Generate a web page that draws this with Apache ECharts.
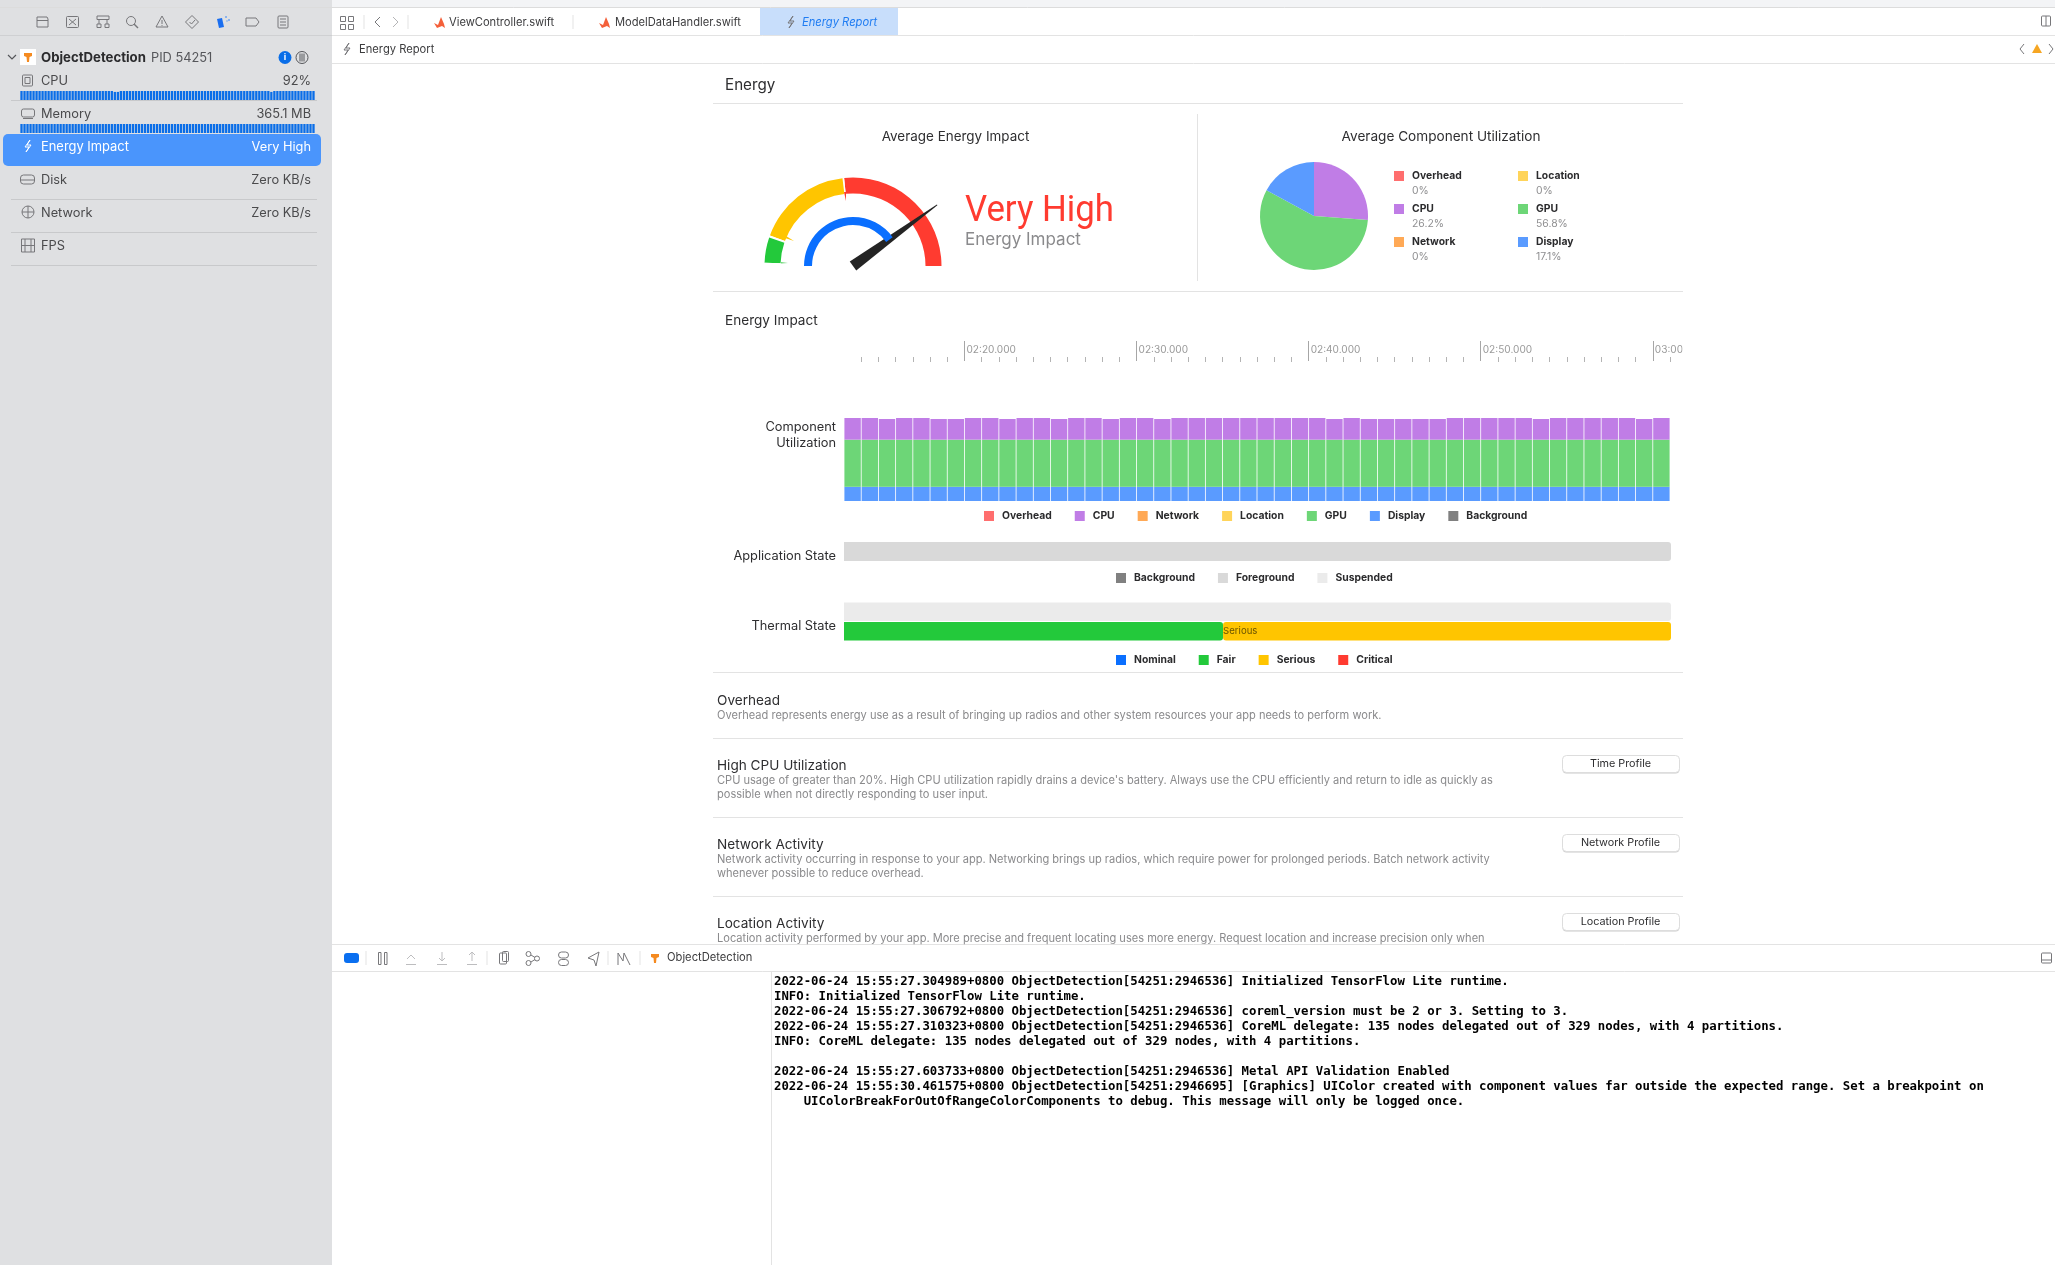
<!DOCTYPE html>
<html>
<head>
<meta charset="utf-8">
<title>Energy Report</title>
<script src="https://cdn.jsdelivr.net/npm/echarts@6/dist/echarts.min.js"></script>
<style>
  html, body { margin: 0; padding: 0; background: #fff; }
  #main { width: 2055px; height: 1265px; }
</style>
</head>
<body>
<div id="main"></div>
<script>
// ---------- data ----------
var gaugeStops = [[0.012, '#ffffff'], [0.104, '#23c93b'], [0.112, '#ffffff'], [0.462, '#ffc500'], [0.468, '#ffffff'], [1, '#ff3b30']];
var energyLevel = 80;

var pieNames = ['CPU', 'GPU', 'Display', 'Overhead', 'Location', 'Network'];
var pieValues = [26.2, 56.8, 17.1, 0, 0, 0];

var seconds = ['02:13','02:14','02:15','02:16','02:17','02:18','02:19','02:20','02:21','02:22','02:23','02:24','02:25','02:26','02:27','02:28',
  '02:29','02:30','02:31','02:32','02:33','02:34','02:35','02:36','02:37','02:38','02:39','02:40','02:41','02:42','02:43','02:44',
  '02:45','02:46','02:47','02:48','02:49','02:50','02:51','02:52','02:53','02:54','02:55','02:56','02:57','02:58','02:59','03:00'];
var cpuUtil = [26.1,26.1,24.9,26.1,26.1,24.9,24.9,26.1,26.1,24.9,26.1,26.1,24.9,26.1,26.1,24.9,
  26.1,26.1,24.9,26.1,26.1,26.1,26.1,26.1,26.1,26.1,26.1,26.1,24.9,26.1,24.9,24.9,
  24.9,24.9,24.9,26.1,26.1,26.1,26.1,26.1,24.9,26.1,26.1,26.1,26.1,26.1,24.9,26.1];
var gpuUtil = [56.8,56.8,56.8,56.8,56.8,56.8,56.8,56.8,56.8,56.8,56.8,56.8,56.8,56.8,56.8,56.8,
  56.8,56.8,56.8,56.8,56.8,56.8,56.8,56.8,56.8,56.8,56.8,56.8,56.8,56.8,56.8,56.8,
  56.8,56.8,56.8,56.8,56.8,56.8,56.8,56.8,56.8,56.8,56.8,56.8,56.8,56.8,56.8,56.8];
var displayUtil = [17.1,17.1,17.1,17.1,17.1,17.1,17.1,17.1,17.1,17.1,17.1,17.1,17.1,17.1,17.1,17.1,
  17.1,17.1,17.1,17.1,17.1,17.1,17.1,17.1,17.1,17.1,17.1,17.1,17.1,17.1,17.1,17.1,
  17.1,17.1,17.1,17.1,17.1,17.1,17.1,17.1,17.1,17.1,17.1,17.1,17.1,17.1,17.1,17.1];

var minorTicks = [134,135,136,137,138,139,141,142,143,144,145,146,147,148,149,151,152,153,154,155,156,157,158,159,
  161,162,163,164,165,166,167,168,169,171,172,173,174,175,176,177,178,179,181];
var majorTicks = [140,150,160,170,180];

var appStateRow = ['Application'];
var foregroundSecs = [48];
var thermalRows = ['Idle', 'Thermal'];
var suspendedSecs = [48, null];
var fairSecs = [null, 22];
var seriousSecs = [null, 26];

var cpuSpark = [100,100,100,100,100,100,100,100,100,100,100,100,100,100,100,100,100,100,100,100,100,100,100,100,100,100,100,100,100,100,100,90,90,100,100,100,100,100,100,100,100,100,100,100,100,100,100,100,100,100,
  100,100,100,100,100,100,100,100,100,100,100,100,100,100,100,100,100,100,100,100,100,100,100,100,100,100,100,100,100,100,100,100,100,90,100,100,100,100,100,100,100,100,100,100,100,100,100,100];
var memSpark = [100,100,100,100,100,100,100,100,100,100,100,100,100,100,100,100,100,100,100,100,100,100,100,100,100,100,100,100,100,100,100,100,100,100,100,100,100,100,100,100,100,100,100,100,100,100,100,100,100,100,
  100,100,100,100,100,100,100,100,100,100,100,100,100,100,100,100,100,100,100,100,100,100,100,100,100,100,100,100,100,100,100,100,100,100,100,100,100,100,100,100,100,100,100,100,100,100,100,100];
var sparkSlots = ['1','2','3','4','5','6','7','8','9','10','11','12','13','14','15','16','17','18','19','20','21','22','23','24','25','26','27','28','29','30','31','32','33','34','35','36','37','38','39','40','41','42','43','44','45','46','47','48','49','50',
  '51','52','53','54','55','56','57','58','59','60','61','62','63','64','65','66','67','68','69','70','71','72','73','74','75','76','77','78','79','80','81','82','83','84','85','86','87','88','89','90','91','92','93','94','95','96','97','98'];

var consoleLines = [
  [981, '2022-06-24 15:55:27.304989+0800 ObjectDetection[54251:2946536] Initialized TensorFlow Lite runtime.'],
  [996, 'INFO: Initialized TensorFlow Lite runtime.'],
  [1011, '2022-06-24 15:55:27.306792+0800 ObjectDetection[54251:2946536] coreml_version must be 2 or 3. Setting to 3.'],
  [1026, '2022-06-24 15:55:27.310323+0800 ObjectDetection[54251:2946536] CoreML delegate: 135 nodes delegated out of 329 nodes, with 4 partitions.'],
  [1041, 'INFO: CoreML delegate: 135 nodes delegated out of 329 nodes, with 4 partitions.'],
  [1071, '2022-06-24 15:55:27.603733+0800 ObjectDetection[54251:2946536] Metal API Validation Enabled'],
  [1086, '2022-06-24 15:55:30.461575+0800 ObjectDetection[54251:2946695] [Graphics] UIColor created with component values far outside the expected range. Set a breakpoint on'],
  [1101, '    UIColorBreakForOutOfRangeColorComponents to debug. This message will only be logged once.']
];

var colors = {
  Overhead: '#ff6e6e', CPU: '#c07de6', Network: '#ffa956', Location: '#ffd45a', GPU: '#6dd677', Display: '#5a9bff',
  Background: '#808080', Foreground: '#d9d9d9', Suspended: '#ebebeb',
  Nominal: '#0a6fff', Fair: '#23c93b', Serious: '#ffc500', Critical: '#ff3b30'
};

// ---------- small helpers for the window chrome ----------
var SANS = 'Inter, "Noto Sans", sans-serif';
var LINE = '#e3e3e3';
var ICON = '#77777a';

function txt(x, y, text, size, fill, extra) {
  extra = extra || {};
  return {
    type: 'text', z: extra.z || 10, silent: true,
    style: {
      x: x, y: y + 1, text: text, fill: fill,
      font: (extra.style || 'normal') + ' ' + (extra.weight || 400) + ' ' + size + 'px ' + (extra.family || SANS),
      align: extra.align || 'left', verticalAlign: 'middle',
      textAlign: extra.align || 'left', textVerticalAlign: 'middle'
    }
  };
}
function box(x, y, w, h, fill, r, stroke, z) {
  return { type: 'rect', silent: true, z: z || 1, shape: { x: x, y: y, width: w, height: h, r: r || 0 },
    style: { fill: fill, stroke: stroke || null, lineWidth: stroke ? 1 : 0 } };
}
function seg(x1, y1, x2, y2, color, w) {
  return { type: 'line', silent: true, z: 2, shape: { x1: x1, y1: y1, x2: x2, y2: y2 }, style: { stroke: color || LINE, lineWidth: w || 1 } };
}
function pl(points, color, w) {
  return { type: 'polyline', silent: true, z: 3, shape: { points: points }, style: { stroke: color || ICON, lineWidth: w || 1, fill: null } };
}
function pg(points, fill) {
  return { type: 'polygon', silent: true, z: 3, shape: { points: points }, style: { fill: fill } };
}
function dot(x, y, r, fill, stroke) {
  return { type: 'circle', silent: true, z: 3, shape: { cx: x, cy: y, r: r }, style: { fill: fill || null, stroke: stroke || null, lineWidth: stroke ? 1 : 0 } };
}
function swift(x, y) {
  return pg([[x - 5, y + 1], [x - 1, y + 3], [x + 2, y - 5], [x + 5, y + 2], [x + 6, y + 6], [x + 3, y + 4], [x - 2, y + 6]], '#f4603a');
}
function tfIcon(x, y) {
  return pg([[x - 4, y - 4], [x + 4, y - 4], [x + 4, y - 1], [x + 1.5, y], [x + 1, y + 5], [x - 1, y + 5], [x - 1.5, y], [x - 4, y - 1]], '#f58a1f');
}
function bolt(x, y, color) {
  return pl([[x + 2, y - 6], [x - 3, y + 1], [x + 1, y + 1], [x - 2, y + 6], [x + 3, y - 1], [x - 1, y - 1], [x + 2, y - 6]], color, 1);
}

var g = [];
// backdrops
g.push(box(0, 0, 2055, 8, '#f3f4f6'));
g.push(box(0, 0, 332, 1265, '#dfe0e2'));
g.push(seg(0, 7.5, 2055, 7.5, '#dcdcdc'), seg(332, 35.5, 2055, 35.5, LINE), seg(0, 35.5, 332, 35.5, '#cfd0d2'), seg(332, 63.5, 2055, 63.5, LINE));

// navigator icons
g.push(pl([[37, 17], [47, 17], [48, 19], [48, 27], [37, 27], [37, 17]]), seg(37, 20.5, 48, 20.5, ICON));
g.push(box(66.5, 16.5, 12, 11, null, 1, ICON), seg(69, 19, 76, 25, ICON), seg(76, 19, 69, 25, ICON));
g.push(box(97, 16, 12, 3.5, null, 0, ICON), box(97, 24, 4, 3.5, null, 0, ICON), box(105, 24, 4, 3.5, null, 0, ICON), pl([[99, 19], [99, 24]]), pl([[107, 19], [107, 24]]));
g.push(dot(131, 21, 4.5, null, ICON), seg(134, 24, 138, 28, ICON, 1.4));
g.push(pl([[162, 16], [168, 27], [156, 27], [162, 16]]), seg(162, 20, 162, 24, ICON), dot(162, 25.5, 0.6, ICON));
g.push(pl([[192, 15.5], [198.5, 22], [192, 28.5], [185.5, 22], [192, 15.5]]), pl([[189.5, 22], [191.5, 24], [195, 20]]));
g.push(pg([[217, 19], [222, 18], [224, 27], [219, 28]], '#1a6ef0'), dot(226, 17, 1, '#6ea5f2'), dot(229, 20, 1, '#6ea5f2'), dot(227, 21, 0.8, '#6ea5f2'));
g.push(pl([[246, 18], [256, 18], [259, 22], [256, 26], [246, 26], [246, 18]]));
g.push(box(278, 16, 10, 12, null, 1, ICON), seg(280, 19, 286, 19, ICON), seg(280, 22, 286, 22, ICON), seg(280, 25, 286, 25, ICON));

// process rows
g.push(pl([[8, 55], [12, 59], [16, 55]], '#55565a', 1.2));
g.push(box(20, 49, 16, 16, '#ffffff'), tfIcon(28, 57));
g.push(txt(41, 57, 'ObjectDetection', 13.2, '#2b2b2d', { weight: 700 }), txt(151, 57, 'PID 54251', 12.8, '#55565a'));
g.push(dot(285, 57.5, 6.5, '#0a6ee8'), txt(285, 56.5, 'i', 9, '#ffffff', { align: 'center', weight: 700 }));
g.push(dot(302, 57.5, 6, null, '#55565a'), seg(300, 53.5, 300, 61.5, '#55565a'), seg(302, 53.5, 302, 61.5, '#55565a'), seg(304, 53.5, 304, 61.5, '#55565a'));

var rows = [[80, 'CPU', '92%'], [113, 'Memory', '365.1 MB'], [179, 'Disk', 'Zero KB/s'], [212, 'Network', 'Zero KB/s'], [245, 'FPS', '']];
rows.forEach(function (r) {
  g.push(txt(41, r[0], r[1], 12.8, '#4a4a4c'), txt(311, r[0], r[2], 12.8, '#4a4a4c', { align: 'right' }));
});
g.push(seg(11, 100.5, 317, 100.5, '#c8c9cb'), seg(11, 199.5, 317, 199.5, '#c8c9cb'), seg(11, 232.5, 317, 232.5, '#c8c9cb'), seg(11, 265.5, 317, 265.5, '#c8c9cb'));
g.push(box(22.5, 75, 10, 11, null, 1, ICON), box(25, 77.5, 5, 6, null, 0, ICON));
g.push(box(21.5, 109, 13, 8, null, 2, ICON), seg(23, 118.5, 33, 118.5, ICON));
g.push(box(3, 134, 318, 32, '#4a95fc', 5));
g.push(bolt(28, 146, '#ffffff'));
g.push(txt(41, 146, 'Energy Impact', 12.9, '#ffffff'), txt(311, 146, 'Very High', 12.8, '#ffffff', { align: 'right' }));
g.push(box(20.5, 175, 14, 9, null, 3, ICON), seg(21, 180, 34, 180, ICON));
g.push(dot(28, 212, 6, null, ICON), seg(22, 212, 34, 212, ICON), seg(28, 206, 28, 218, ICON));
g.push(box(21.5, 239, 13, 13, null, 0, ICON), seg(25, 239, 25, 252, ICON), seg(31, 239, 31, 252, ICON), seg(21.5, 245.5, 34.5, 245.5, ICON));

// editor tabs
g.push(box(760, 8, 138, 27, '#c8defb'));
g.push(box(340.5, 16.5, 5, 5, null, 0, ICON), box(348.5, 16.5, 5, 5, null, 0, ICON), box(340.5, 24.5, 5, 5, null, 0, ICON), box(348.5, 24.5, 5, 5, null, 0, ICON));
g.push(seg(364, 15, 364, 29, LINE), seg(408, 15, 408, 29, LINE), seg(573, 15, 573, 29, LINE));
g.push(pl([[380, 17], [375, 22], [380, 27]]), pl([[393, 17], [398, 22], [393, 27]], '#b5b5b7'));
g.push(swift(439, 22), txt(449, 21.5, 'ViewController.swift', 11.15, '#3c3c3e'));
g.push(swift(604, 22), txt(615, 21.5, 'ModelDataHandler.swift', 11.15, '#3c3c3e'));
g.push(bolt(791, 22, ICON), txt(802, 21.5, 'Energy Report', 11.2, '#1f7cf2', { style: 'italic' }));
g.push(bolt(347, 49, ICON), txt(359, 48.5, 'Energy Report', 11.2, '#3c3c3e'));
g.push(box(2041.5, 16, 9, 10, null, 1, ICON), seg(2046, 16, 2046, 26, ICON));
g.push(pl([[2024, 44], [2020, 49], [2024, 54]]), pl([[2049, 44], [2053, 49], [2049, 54]]));
g.push(pg([[2037, 44], [2042, 53], [2032, 53]], '#f6a623'));

// report headings and rules
g.push(txt(725, 84, 'Energy', 15.2, '#2e2e30'));
g.push(seg(713, 103.5, 1683, 103.5), seg(713, 291.5, 1683, 291.5), seg(1197.5, 114, 1197.5, 281));
g.push(txt(955.5, 135.5, 'Average Energy Impact', 13.45, '#2e2e30', { align: 'center' }));
g.push(txt(1441, 135.5, 'Average Component Utilization', 13.6, '#2e2e30', { align: 'center' }));
// the original face is narrower than Roboto at this size, so squeeze it a little
var veryHigh = txt(0, -1, 'Very High', 37, '#ff3b30', { family: 'Roboto, Inter, sans-serif' });
veryHigh.x = 965; veryHigh.y = 211.5; veryHigh.scaleX = 0.94;
g.push(veryHigh, txt(965, 239, 'Energy Impact', 17, '#8a8a8c'));
g.push(pg([[786, 236], [794, 241], [785, 238]], '#ffc500'), pg([[844, 192], [846, 192], [846, 201]], '#ff3b30'), pg([[781, 262], [788, 263], [781, 263.6]], '#6dd677'));

// pie legend percentages
var pctRows = [['Overhead', 1412, 189.5], ['CPU', 1412, 222.5], ['Network', 1412, 255.5], ['Location', 1536, 189.5], ['GPU', 1536, 222.5], ['Display', 1536, 255.5]];
pctRows.forEach(function (p) {
  g.push(txt(p[1], p[2], pieValues[pieNames.indexOf(p[0])] + '%', 10.4, '#8f8f91'));
});

g.push(txt(725, 319.5, 'Energy Impact', 13.6, '#2e2e30'));
g.push(txt(836, 426.5, 'Component', 12.8, '#2e2e30', { align: 'right' }), txt(836, 442.5, 'Utilization', 12.8, '#2e2e30', { align: 'right' }));
g.push(txt(836, 555, 'Application State', 12.8, '#2e2e30', { align: 'right' }));
g.push(txt(836, 625, 'Thermal State', 12.8, '#2e2e30', { align: 'right' }));
g.push(box(1682.5, 340, 40, 18, '#ffffff', 0, null, 100));

// recommendations
var DESC = 11.07;
g.push(seg(713, 672.5, 1683, 672.5), seg(713, 738.5, 1683, 738.5), seg(713, 817.5, 1683, 817.5), seg(713, 896.5, 1683, 896.5));
g.push(txt(717, 699.5, 'Overhead', 13.6, '#2e2e30'));
g.push(txt(717, 715, 'Overhead represents energy use as a result of bringing up radios and other system resources your app needs to perform work.', DESC, '#8a8a8c'));
g.push(txt(717, 764.5, 'High CPU Utilization', 13.6, '#2e2e30'));
g.push(txt(717, 779.5, 'CPU usage of greater than 20%. High CPU utilization rapidly drains a device\'s battery. Always use the CPU efficiently and return to idle as quickly as', DESC, '#8a8a8c'));
g.push(txt(717, 793.5, 'possible when not directly responding to user input.', DESC, '#8a8a8c'));
g.push(txt(717, 843.5, 'Network Activity', 13.6, '#2e2e30'));
g.push(txt(717, 858.5, 'Network activity occurring in response to your app. Networking brings up radios, which require power for prolonged periods. Batch network activity', DESC, '#8a8a8c'));
g.push(txt(717, 872.5, 'whenever possible to reduce overhead.', DESC, '#8a8a8c'));
g.push(txt(717, 922.5, 'Location Activity', 13.6, '#2e2e30'));
g.push(txt(717, 938, 'Location activity performed by your app. More precise and frequent locating uses more energy. Request location and increase precision only when', DESC, '#8a8a8c'));
[[755.5, 'Time Profile'], [834.5, 'Network Profile'], [913.5, 'Location Profile']].forEach(function (b) {
  g.push(box(1562.5, b[0] + 1, 117, 17, '#c9c9c9', 4), box(1562.5, b[0], 117, 17, '#ffffff', 4, '#dddddd'));
  g.push(txt(1620.5, b[0] + 7.5, b[1], 10.8, '#2e2e30', { align: 'center' }));
});

// debug bar and console
g.push(seg(332, 944.5, 2055, 944.5), seg(332, 971.5, 2055, 971.5), seg(771.5, 972, 771.5, 1265));
g.push(box(344, 953, 15, 10, '#0a6ff0', 3));
g.push(seg(366, 951, 366, 965, LINE), seg(487, 951, 487, 965, LINE), seg(608, 951, 608, 965, LINE), seg(640, 951, 640, 965, LINE));
g.push(box(378.5, 952.5, 2.5, 12, null, 0, ICON), box(384.5, 952.5, 2.5, 12, null, 0, ICON));
g.push(pl([[407, 959], [411, 955], [415, 959]], '#bdbdbf'), seg(406, 964.5, 416, 964.5, '#bdbdbf'));
g.push(seg(442, 952, 442, 961, '#bdbdbf'), pl([[439, 958], [442, 961], [445, 958]], '#bdbdbf'), seg(437, 964.5, 447, 964.5, '#bdbdbf'));
g.push(seg(472, 952, 472, 961, '#bdbdbf'), pl([[469, 955], [472, 952], [475, 955]], '#bdbdbf'), seg(467, 964.5, 477, 964.5, '#bdbdbf'));
g.push(box(499.5, 953, 7, 11, null, 1, ICON), box(502.5, 951.5, 6, 10, null, 1, ICON));
g.push(dot(528.5, 954, 2.5, null, ICON), dot(528.5, 963, 2.5, null, ICON), dot(537, 958.5, 2.5, null, ICON), seg(531, 955, 535, 957.5, ICON), seg(531, 962, 535, 959.5, ICON));
g.push(box(558.5, 952, 10, 6, null, 3, ICON), box(558.5, 959.5, 10, 6, null, 3, ICON));
g.push(pl([[599, 952], [588, 958], [594, 960], [596, 966], [599, 952]]));
g.push(pl([[618, 965], [618, 953], [623, 961], [624, 953], [630, 965]]));
g.push(tfIcon(655, 958));
g.push(txt(667, 957, 'ObjectDetection', 11.2, '#3c3c3e'));
g.push(box(2041.5, 953, 10, 10, null, 1, ICON), seg(2042, 960, 2051, 960, ICON));
consoleLines.forEach(function (l) {
  g.push(txt(774, l[0], l[1], 12.33, '#000000', { weight: 700, family: '"DejaVu Sans Mono", monospace' }));
});

// ---------- legends ----------
function legendRow(left, top, names, gap, orient) {
  return {
    left: left, top: top, orient: orient || 'horizontal', icon: 'rect', data: names,
    itemWidth: 10, itemHeight: 10, itemGap: gap, selectedMode: false, padding: 0,
    textStyle: { fontFamily: SANS, fontWeight: 700, fontSize: 10.35, color: '#2b2b2d', padding: [0, 0, 0, 3] }
  };
}

function stackedBar(name, values) {
  return {
    type: 'bar', name: name, xAxisIndex: 2, yAxisIndex: 1, stack: 'util', data: values,
    barWidth: 16.4, silent: true, itemStyle: { color: colors[name] }
  };
}
function stateBar(name, values, axis, width, radius, label) {
  return {
    type: 'bar', name: name, xAxisIndex: axis[0], yAxisIndex: axis[1], stack: 'state' + axis[0], data: values,
    barWidth: width, silent: true, itemStyle: { color: colors[name], borderRadius: radius || 0 }, label: label || { show: false }
  };
}
function sparkBar(name, values, axis) {
  return {
    type: 'bar', name: name, xAxisIndex: axis, yAxisIndex: axis - 1, data: values,
    barWidth: 2.3, silent: true, itemStyle: { color: '#0a6ee8' }
  };
}
function tsLabel(v) {
  var m = Math.floor(v / 60), s = v % 60;
  return (m < 10 ? '0' : '') + m + ':' + (s < 10 ? '0' : '') + s + '.000';
}

var hidden = { axisLine: { show: false }, axisTick: { show: false }, axisLabel: { show: false }, splitLine: { show: false } };
function hide(o) { return Object.assign({}, hidden, o); }

var option = {
  animation: false,
  backgroundColor: '#ffffff',
  graphic: { elements: g },
  grid: [
    { left: 844, top: 361, width: 826, height: 1, outerBoundsMode: 'none' },
    { left: 844, top: 418, width: 826, height: 83, outerBoundsMode: 'none' },
    { left: 844, top: 542, width: 827, height: 19, outerBoundsMode: 'none' },
    { left: 844, top: 602, width: 827, height: 39, outerBoundsMode: 'none' },
    { left: 20, top: 91, width: 295, height: 9, outerBoundsMode: 'none' },
    { left: 20, top: 124, width: 295, height: 9, outerBoundsMode: 'none' }
  ],
  xAxis: [
    { type: 'value', gridIndex: 0, position: 'top', min: 133, max: 181, interval: 1,
      axisLine: { show: false }, splitLine: { show: false }, axisLabel: { show: false },
      axisTick: { show: true, length: 5, customValues: minorTicks, lineStyle: { color: '#b4b4b4', width: 1 } } },
    { type: 'value', gridIndex: 0, position: 'top', min: 133, max: 181, interval: 1,
      axisLine: { show: false }, splitLine: { show: false },
      axisTick: { show: true, length: 20, customValues: majorTicks, lineStyle: { color: '#a6a6a6', width: 1 } },
      axisLabel: { show: true, customValues: majorTicks, align: 'left', margin: 6, padding: [0, 0, 0, 2],
        fontFamily: SANS, fontSize: 10.1, color: '#9a9a9a', formatter: tsLabel, hideOverlap: false } },
    hide({ type: 'category', gridIndex: 1, data: seconds }),
    hide({ type: 'value', gridIndex: 2, min: 0, max: 48 }),
    hide({ type: 'value', gridIndex: 3, min: 0, max: 48 }),
    hide({ type: 'category', gridIndex: 4, data: sparkSlots }),
    hide({ type: 'category', gridIndex: 5, data: sparkSlots })
  ],
  yAxis: [
    hide({ type: 'value', gridIndex: 0, min: 0, max: 1 }),
    hide({ type: 'value', gridIndex: 1, min: 0, max: 100 }),
    hide({ type: 'category', gridIndex: 2, data: appStateRow }),
    hide({ type: 'category', gridIndex: 3, data: thermalRows, inverse: true }),
    hide({ type: 'value', gridIndex: 4, min: 0, max: 100 }),
    hide({ type: 'value', gridIndex: 5, min: 0, max: 100 })
  ],
  legend: [
    legendRow(1394, 171, ['Overhead', 'CPU', 'Network'], 23, 'vertical'),
    legendRow(1518, 171, ['Location', 'GPU', 'Display'], 23, 'vertical'),
    legendRow(984, 511, ['Overhead', 'CPU', 'Network', 'Location', 'GPU', 'Display', 'Background'], 23),
    legendRow(1116, 573, ['Background', 'Foreground', 'Suspended'], 23),
    legendRow(1116, 655, ['Nominal', 'Fair', 'Serious', 'Critical'], 23)
  ],
  series: [
    { type: 'gauge', center: [853, 266], radius: 88.5, startAngle: 180, endAngle: 0, min: 0, max: 100, silent: true,
      axisLine: { lineStyle: { width: 16, color: gaugeStops } },
      axisTick: { show: false }, splitLine: { show: false }, axisLabel: { show: false },
      pointer: { show: false }, anchor: { show: false }, title: { show: false }, detail: { show: false },
      data: [{ value: 0 }] },
    { type: 'gauge', center: [853, 266], radius: 49, startAngle: 180, endAngle: 0, min: 0, max: 100, silent: true,
      axisLine: { show: false }, progress: { show: true, width: 8, itemStyle: { color: '#0a6fff' } },
      axisTick: { show: false }, splitLine: { show: false }, axisLabel: { show: false },
      pointer: { show: true, icon: 'path://M4.6,0 L5.4,0 L10,100 L0,100 Z', length: 104, width: 11, itemStyle: { color: '#242424' } },
      anchor: { show: false }, title: { show: false }, detail: { show: false },
      data: [{ value: energyLevel }] },
    { type: 'pie', center: [1314, 216], radius: 54, startAngle: 90, silent: true, label: { show: false }, labelLine: { show: false },
      data: pieNames.map(function (n, i) { return { name: n, value: pieValues[i], itemStyle: { color: colors[n] } }; }) },
    stackedBar('Display', displayUtil),
    stackedBar('GPU', gpuUtil),
    stackedBar('CPU', cpuUtil),
    stackedBar('Overhead', []),
    stackedBar('Network', []),
    stackedBar('Location', []),
    stateBar('Background', [], [3, 2], 19),
    stateBar('Foreground', foregroundSecs, [3, 2], 19, [0, 3, 3, 0]),
    stateBar('Suspended', suspendedSecs, [4, 3], 18.6, [0, 3, 3, 0]),
    stateBar('Nominal', [], [4, 3], 18.6),
    stateBar('Fair', fairSecs, [4, 3], 18.6, [0, 3, 3, 0]),
    stateBar('Serious', seriousSecs, [4, 3], 18.6, 3, { show: true, position: 'insideLeft', distance: 0, formatter: '{a}', fontFamily: SANS, fontSize: 9.6, color: '#6b5500' }),
    stateBar('Critical', [], [4, 3], 18.6),
    sparkBar('CPU usage', cpuSpark, 5),
    sparkBar('Memory usage', memSpark, 6)
  ]
};

var chart = echarts.init(document.getElementById('main'));
chart.setOption(option);
</script>
</body>
</html>
